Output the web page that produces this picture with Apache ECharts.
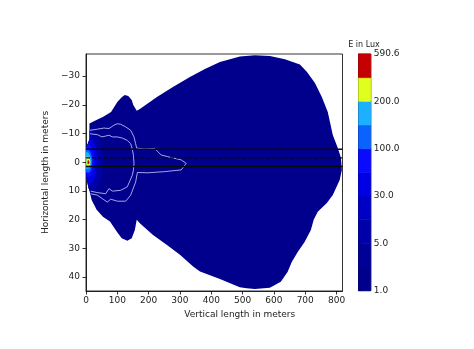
<!DOCTYPE html>
<html>
<head>
<meta charset="utf-8">
<script src="https://cdn.jsdelivr.net/npm/echarts@6/dist/echarts.min.js"></script>
<style>
  html, body { margin: 0; padding: 0; background: #fff; }
  #chart { width: 474px; height: 349px; }
</style>
</head>
<body>
<div id="chart"></div>
<script>
// Axis extents (meters)
const xMin = 0, xMax = 819;
const yMin = -37.7, yMax = 44.9;
const xTicks = [0, 100, 200, 300, 400, 500, 600, 700, 800];
const yTicks = [-30, -20, -10, 0, 10, 20, 30, 40];

// Colour scale (bottom to top) and its labels
const cbColors = ['#00008c', '#000096', '#0000a8', '#0000c4', '#0000e4',
                  '#0a0aff', '#0a62ff', '#1cb0ff', '#e0ff1e', '#c40000'];
const cbLabels = ['1.0', '5.0', '30.0', '100.0', '200.0', '590.6'];

// Outline of the lit area (E >= 1 lux), [x, y] in meters
const litArea = [
  [11, -10], [11, -13.5], [30, -14.5], [55, -15.8], [80, -17.5], [100, -21],
  [114, -22.6], [124, -23.4], [135, -23.1], [146, -21.7], [151, -19.9], [162, -17.9],
  [172, -18.5], [226.5, -22.7], [277.6, -26.2], [331.8, -29.7], [379.7, -32.5],
  [427.6, -34.9], [491.4, -36.8], [539, -37.3], [587, -37], [635, -35.9], [683, -34],
  [705, -31.5], [731, -27.6], [753, -22.7], [772, -17.5], [788, -9.5], [804, -4.9],
  [814, -1.5], [817, 2.7], [810, 6.2], [788, 11.4], [769, 14.2], [740, 17.3],
  [727, 20.1], [718, 23.6], [698, 27.8], [676, 31.3], [657, 34.8], [644, 38.2],
  [622, 41.7], [587, 43.8], [539, 44.2], [513, 43.9], [491, 43.6], [427.6, 40.7],
  [364, 38.1], [342, 36.4], [300, 32.3], [257.5, 28.8], [214, 25.4], [172, 21.3],
  [162, 20.1], [156, 23.6], [146, 26.5], [132, 27.4], [114, 26.5], [98, 24.2],
  [76.6, 20.7], [54, 19], [34, 16.6], [18, 13.2], [11, 10], [8, 9], [3, 6.5],
  [0, 3.5], [0, -5], [6, -6.5], [11, -8]
];

// Bands of higher illuminance around the luminaire
const band1 = [[0, -5], [6, -6.5], [11, -8], [11, -11], [22, -11], [38, -9], [50, -5], [55, 0],
               [50, 5], [38, 8.5], [22, 10], [11, 10], [8, 9], [3, 6.5], [0, 3.5]];
const band2 = [[0, -5], [6, -6.5], [11, -8], [22, -8], [32, -5], [36, 0], [32, 4], [22, 7],
               [10, 8], [3, 6.5], [0, 3.5]];
const band3 = [[0, -5], [6, -6.3], [14, -6], [24, -3.5], [27, 0], [24, 3], [14, 5], [5, 5.2], [0, 3.5]];
const band4 = [[0, -4.6], [8, -4.5], [16, -3], [20, -1], [19, 1.5], [13, 3.3], [5, 3.8], [0, 3.2]];
const band5 = [[0, -3.6], [7, -3.3], [13, -2.3], [17, -0.8], [16, 1], [11, 2.2], [5, 2.5], [0, 2.2]];
const band6 = [[1, -1.8], [7, -2], [12, -1.3], [14, 0], [12, 1.1], [6, 1.4], [1, 1]];
const band7 = [[5, -0.6], [9, -0.7], [11, 0], [9, 0.6], [5, 0.6]];

// Iso-lux lines
const isoOuter = [
  [12.8, -11.1], [36.1, -11.5], [57.4, -11.9], [73.4, -11.7], [89.3, -12.9], [99.9, -13.4],
  [110.7, -13.2], [126.7, -12.3], [142.6, -11.1], [153.2, -8.8], [158.6, -6.4], [161.8, -4.9],
  [188, -4.6], [219, -4.8], [240, -2.5], [261.6, -1.9], [304, -0.8], [320, 0.4], [304, 2.7],
  [251, 3.3], [198, 3.7], [164, 3.6], [158.6, 6.9], [142.6, 11.5], [126.7, 13.6], [99.9, 13.6],
  [78.8, 12.9], [68, 13.9], [52, 12.7], [36.1, 11.5], [15, 11]
];
const isoInner = [
  [12.8, -9.9], [36.1, -9.6], [51, -8.8], [62.9, -9.1], [73.4, -9.4], [84, -8.8], [99.9, -8.8],
  [115.8, -8.4], [131.8, -7.6], [142.6, -6.4], [147.7, -4.7], [151.6, -2.2], [153.2, 0.3],
  [151.6, 2.7], [147.7, 4.6], [131.8, 8.6], [110.7, 9.8], [84, 10.1], [73.4, 9.2], [62.9, 11],
  [36.1, 10.6], [15, 10.1]
];

// Road edges (solid) and centre line (dashed)
const roadLines = [
  { y: -4.5, dashed: false },
  { y: -1.5, dashed: true },
  { y: 1.5, dashed: false }
];

const FONT = 'DejaVu Sans';

function areaSeries(points, color, z) {
  return {
    type: 'custom',
    coordinateSystem: 'cartesian2d',
    xAxisIndex: 0, yAxisIndex: 0,
    silent: true, clip: true, z: z,
    data: [points[0]],
    renderItem: function (params, api) {
      return {
        type: 'polygon',
        shape: { points: points.map(function (p) { return api.coord(p); }) },
        style: { fill: color }
      };
    }
  };
}

function lineSeries(points, style, z) {
  return {
    type: 'line', xAxisIndex: 0, yAxisIndex: 0,
    data: points, showSymbol: false, silent: true, z: z,
    lineStyle: style
  };
}

const series = [
  areaSeries(litArea, cbColors[0], 2),
  areaSeries(band1, cbColors[2], 3),
  areaSeries(band2, cbColors[4], 3),
  areaSeries(band3, cbColors[5], 3),
  areaSeries(band4, cbColors[6], 3),
  areaSeries(band5, cbColors[7], 3),
  areaSeries(band6, cbColors[8], 3),
  areaSeries(band7, cbColors[9], 3),
  lineSeries(isoOuter, { color: 'rgba(205,205,255,0.8)', width: 1 }, 4),
  lineSeries(isoInner, { color: 'rgba(205,205,255,0.8)', width: 1 }, 4)
];

// Road markings, drawn across the whole plot width
series.push({
  type: 'custom',
  coordinateSystem: 'cartesian2d',
  xAxisIndex: 0, yAxisIndex: 0,
  silent: true, clip: true, z: 6,
  data: roadLines.map(function (r) { return [xMin, r.y]; }),
  renderItem: function (params, api) {
    const r = roadLines[params.dataIndex];
    const a = api.coord([xMin, r.y]);
    const b = api.coord([xMax, r.y]);
    return {
      type: 'line',
      shape: { x1: a[0], y1: a[1], x2: b[0], y2: b[1] },
      style: { stroke: '#0a0a0a', lineWidth: 1.4, lineDash: r.dashed ? [4, 2] : null }
    };
  }
});

// Colour bar cells
series.push({
  type: 'custom',
  coordinateSystem: 'cartesian2d',
  xAxisIndex: 1, yAxisIndex: 1,
  silent: true,
  data: cbColors.map(function (c, i) { return [0, i]; }),
  renderItem: function (params, api) {
    const i = api.value(1);
    const p0 = api.coord([0, i]);
    const p1 = api.coord([1, i + 1]);
    return {
      type: 'rect',
      shape: { x: p0[0], y: p1[1], width: p1[0] - p0[0], height: p0[1] - p1[1] },
      style: { fill: cbColors[i], stroke: cbColors[i], lineWidth: 0.6 }
    };
  }
});

const tickStyle = { color: '#000', width: 0.8 };
const labelStyle = { color: '#222', fontFamily: FONT, fontSize: 9 };

const option = {
  animation: false,
  backgroundColor: '#fff',
  title: {
    text: 'E in Lux',
    left: 364, top: 41, textAlign: 'center', padding: 0,
    textStyle: { fontFamily: FONT, fontSize: 8, fontWeight: 'normal', color: '#222' }
  },
  grid: [
    { left: 86, top: 54, width: 256.5, height: 237, show: true,
      borderColor: '#000', borderWidth: 0.8, backgroundColor: 'transparent' },
    { left: 358.5, top: 54, width: 12.3, height: 236.7, show: true,
      borderColor: '#000', borderWidth: 0.8, backgroundColor: 'transparent' }
  ],
  xAxis: [
    {
      type: 'value', gridIndex: 0, min: xMin, max: xMax,
      name: 'Vertical length in meters', nameLocation: 'middle', nameGap: 16,
      nameTextStyle: { fontFamily: FONT, fontSize: 9, color: '#222', padding: [0, 0, 0, 51] },
      axisLine: { show: true, onZero: false, lineStyle: tickStyle },
      axisTick: { show: true, length: 3.5, lineStyle: tickStyle, customValues: xTicks },
      axisLabel: Object.assign({ margin: 5.5, customValues: xTicks }, labelStyle),
      splitLine: { show: false }
    },
    {
      type: 'value', gridIndex: 1, min: 0, max: 1, show: false
    }
  ],
  yAxis: [
    {
      type: 'value', gridIndex: 0, min: yMin, max: yMax, inverse: true,
      name: 'Horizontal length in meters', nameLocation: 'middle', nameGap: 23,
      nameTextStyle: { fontFamily: FONT, fontSize: 9, color: '#222' },
      axisLine: { show: true, onZero: false, lineStyle: tickStyle },
      axisTick: { show: true, length: 3.5, lineStyle: tickStyle, customValues: yTicks },
      axisLabel: Object.assign({
        margin: 6, customValues: yTicks,
        formatter: function (v) { return v < 0 ? '\u2212' + Math.abs(v) : String(v); }
      }, labelStyle),
      splitLine: { show: false }
    },
    {
      type: 'value', gridIndex: 1, min: 0, max: cbColors.length, interval: 2,
      position: 'right',
      axisLine: { show: true, lineStyle: tickStyle },
      axisTick: { show: true, length: 3.5, lineStyle: tickStyle },
      axisLabel: Object.assign({
        margin: 3,
        formatter: function (v) { return cbLabels[Math.round(v / 2)]; }
      }, labelStyle),
      splitLine: { show: false }
    }
  ],
  series: series
};

const chart = echarts.init(document.getElementById('chart'), null, { renderer: 'canvas' });
chart.setOption(option);
</script>
</body>
</html>
